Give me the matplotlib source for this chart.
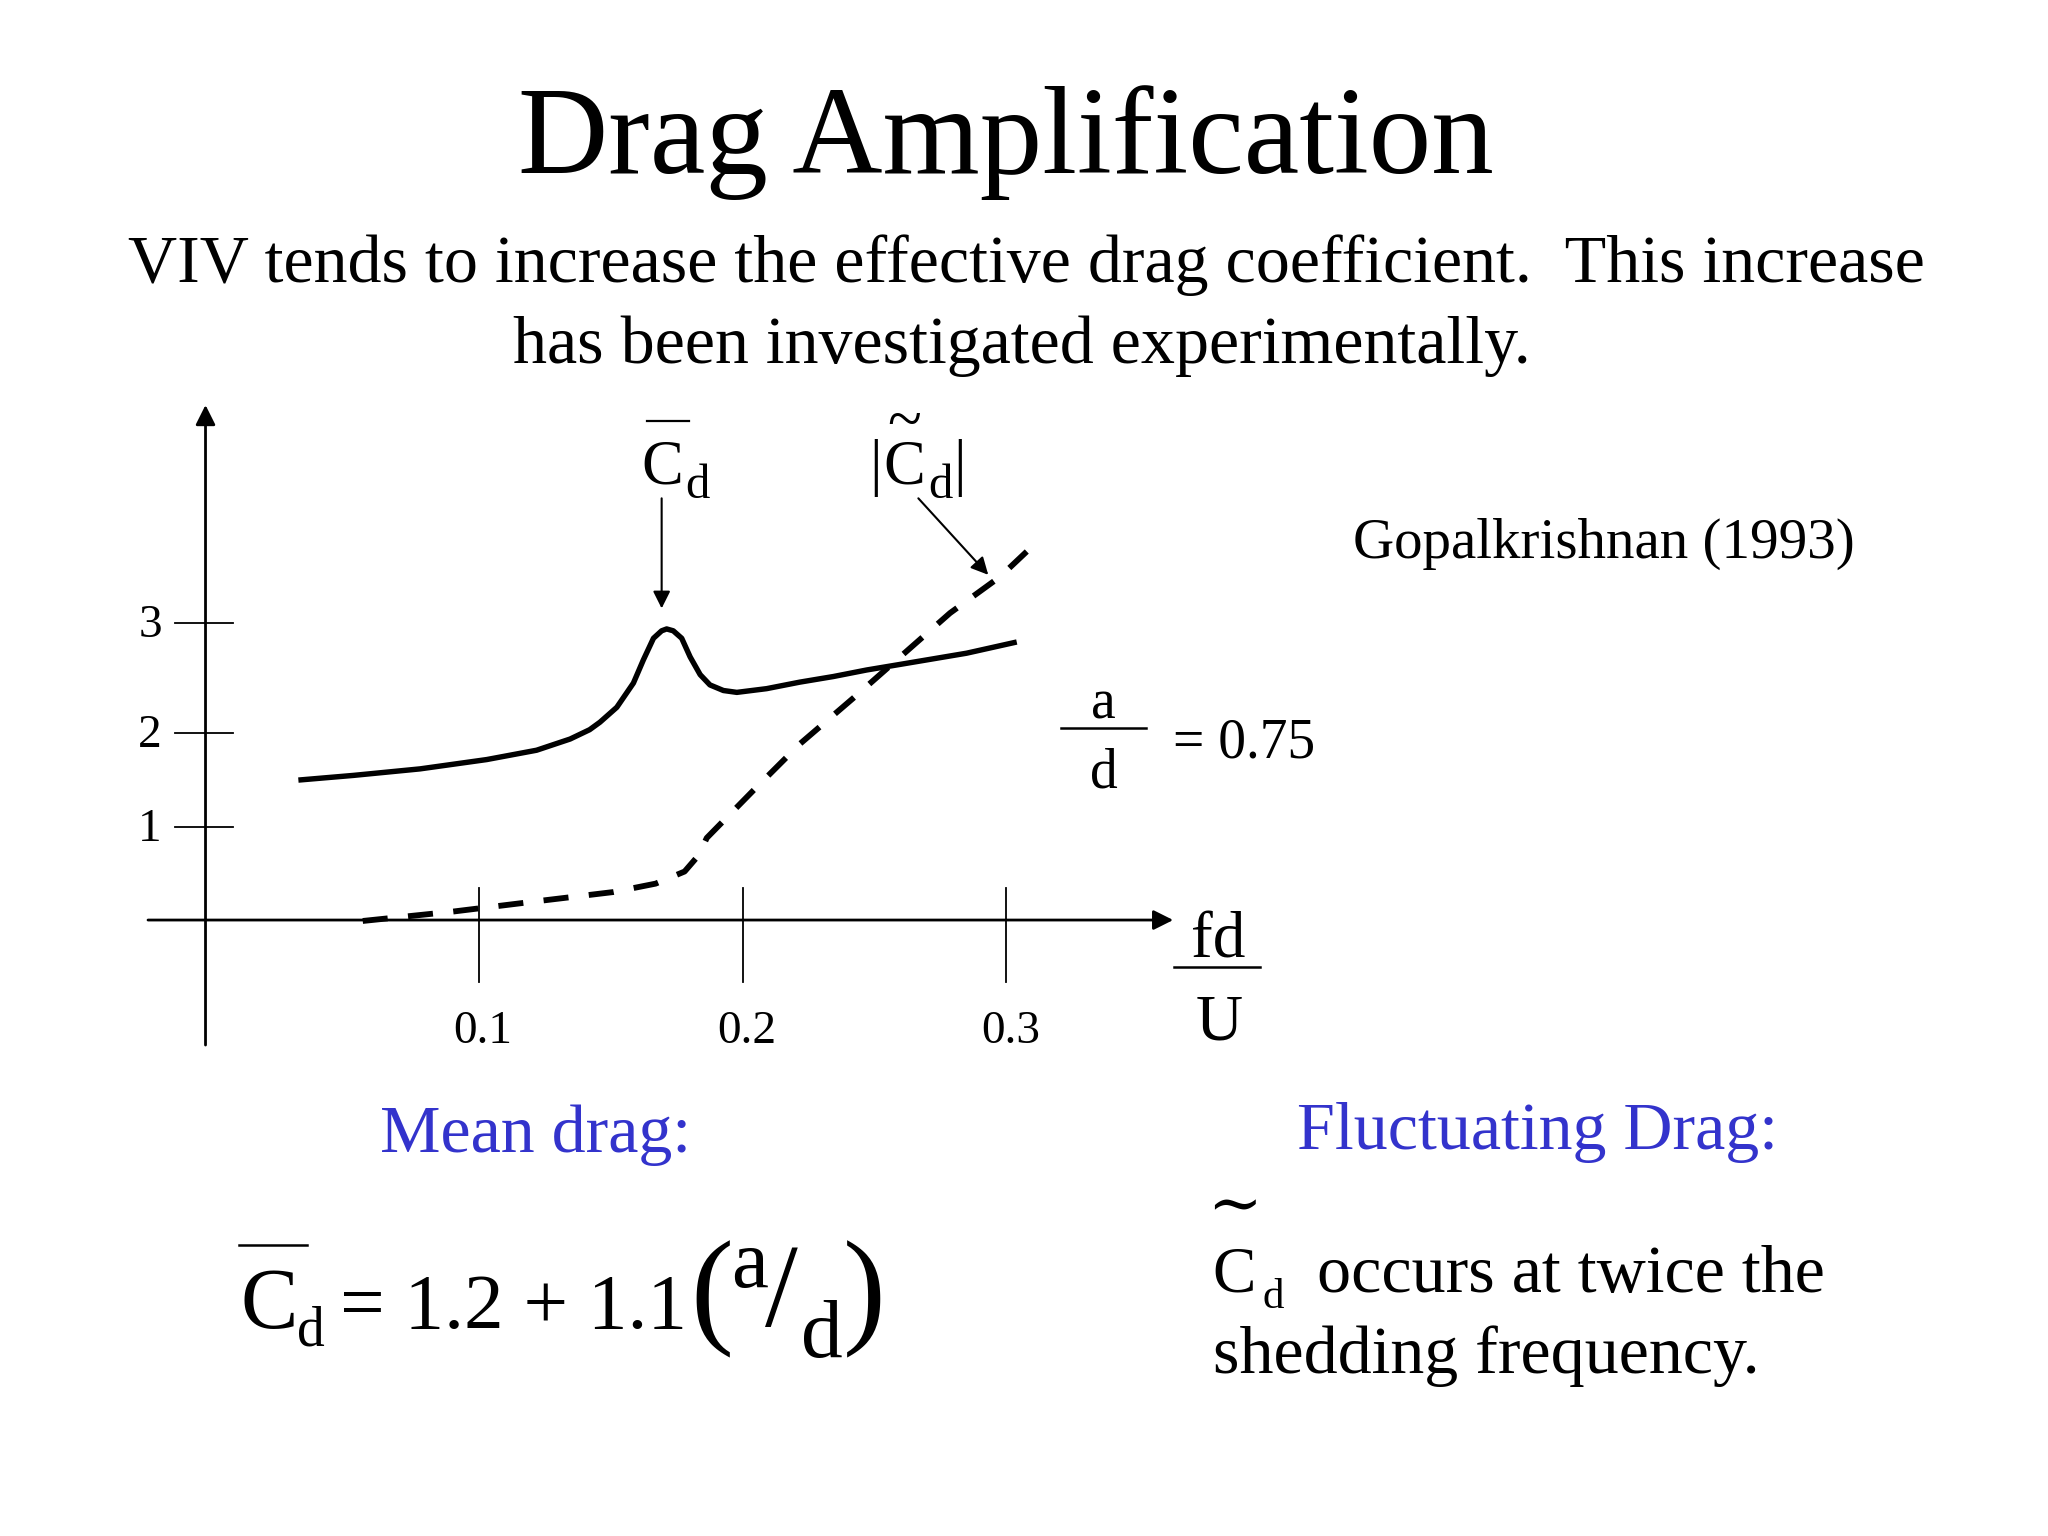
import matplotlib
matplotlib.use("Agg")
import matplotlib.pyplot as plt
from matplotlib.lines import Line2D

# curve readings: fd/U vs drag coefficient
fd_mean = [0.0316, 0.0524, 0.0777, 0.1030, 0.1219, 0.1346, 0.1420, 0.1459, 0.1523,
           0.1586, 0.1624, 0.1662, 0.1693, 0.1712, 0.1737, 0.1769, 0.1801, 0.1839,
           0.1876, 0.1927, 0.1978, 0.2091, 0.2217, 0.2344, 0.2470, 0.2597, 0.2723,
           0.2849, 0.2944, 0.3039]
cd_mean = [1.50, 1.55, 1.62, 1.72, 1.82, 1.94, 2.04, 2.12, 2.28,
           2.54, 2.79, 3.02, 3.10, 3.12, 3.10, 3.02, 2.82, 2.63,
           2.52, 2.46, 2.44, 2.48, 2.55, 2.61, 2.68, 2.74, 2.80,
           2.86, 2.92, 2.98]

fd_fluct = [0.056, 0.090, 0.1245, 0.151, 0.167, 0.178, 0.1835, 0.1864, 0.2041,
            0.2218, 0.2420, 0.2597, 0.2786, 0.2976, 0.3077]
cd_fluct = [-0.01, 0.09, 0.21, 0.30, 0.39, 0.52, 0.70, 0.88, 1.39,
            1.89, 2.38, 2.82, 3.29, 3.68, 3.95]

xtick_vals = [0.1, 0.2, 0.3]
xtick_labels = ["0.1", "0.2", "0.3"]
ytick_pos = [1.0, 2.0, 3.18]   # the "3" tick sits a bit high in the original drawing
ytick_labels = ["1", "2", "3"]

W, H = 2048, 1536
SERIF = ["Liberation Serif", "DejaVu Serif"]
BLUE = "#3333CC"

fig = plt.figure(figsize=(W / 100, H / 100), dpi=100)
fig.patch.set_facecolor("white")

# axes spans the whole slide; limits chosen so the sketch lands where it does on the slide
ax = fig.add_axes([0, 0, 1, 1])
ax.set_xlim(-0.0815, 0.6948)
ax.set_ylim(-6.602, 9.861)
ax.axis("off")


def ptxt(x, y, s, size, **kw):
    # x, y in slide pixels (from top-left), baseline anchored
    kw.setdefault("ha", "left")
    kw.setdefault("color", "black")
    fig.text(x / W, 1 - y / H, s, fontsize=size, family=SERIF, va="baseline", **kw)


def hbar(x1, x2, y, lw=1.6):
    fig.add_artist(Line2D([x1 / W, x2 / W], [1 - y / H, 1 - y / H], color="black", lw=lw))


# heading
ptxt(1006, 173, "Drag Amplification", 90, ha="center")
ptxt(1026, 282, "VIV tends to increase the effective drag coefficient.  This increase", 49, ha="center")
ptxt(1022, 363, "has been investigated experimentally.", 49, ha="center")

# axes with arrow heads
y_axis_x = -0.0036
ax.annotate("", xy=(y_axis_x, 5.52), xytext=(y_axis_x, -1.34),
            arrowprops=dict(arrowstyle="-|>", lw=2.0, color="black",
                            mutation_scale=30, shrinkA=0, shrinkB=0))
ax.annotate("", xy=(0.3632, 0), xytext=(-0.0254, 0),
            arrowprops=dict(arrowstyle="-|>", lw=2.0, color="black",
                            mutation_scale=30, shrinkA=0, shrinkB=0))

for xv, lab in zip(xtick_vals, xtick_labels):
    ax.plot([xv, xv], [-0.66, 0.34], color="black", lw=1.3)
    ax.text(xv + 0.0015, -1.32, lab, fontsize=34, family=SERIF, ha="center", va="baseline")
for yv, lab in zip(ytick_pos, ytick_labels):
    ax.plot([-0.015, 0.0068], [yv, yv], color="black", lw=1.3)
    ax.text(-0.0201, yv - 0.15, lab, fontsize=34, family=SERIF, ha="right", va="baseline")

# curves
ax.plot(fd_mean, cd_mean, color="black", lw=3.9, solid_joinstyle="round", solid_capstyle="butt")
ax.plot(fd_fluct, cd_fluct, color="black", lw=4.2, dashes=(4.3, 3.5))

# pointer arrows to curves
ax.annotate("", xy=(0.1693, 3.34), xytext=(0.1693, 4.52),
            arrowprops=dict(arrowstyle="-|>", lw=1.5, color="black",
                            mutation_scale=26, shrinkA=0, shrinkB=0))
ax.annotate("", xy=(0.2931, 3.70), xytext=(0.2666, 4.52),
            arrowprops=dict(arrowstyle="-|>", lw=1.5, color="black",
                            mutation_scale=26, shrinkA=0, shrinkB=0))

# curve labels
hbar(647, 689, 421)
ptxt(641, 483, "C", 45)
ptxt(685, 498, "d", 35)

ptxt(869, 483, "|", 46)
ptxt(904, 483, "~\nC", 45, ha="center", linespacing=0.65)
ptxt(928, 498, "d", 35)
ptxt(953, 483, "|", 46)

ptxt(1353, 558, "Gopalkrishnan (1993)", 41)

# a/d = 0.75
ptxt(1091, 718, "a", 40)
hbar(1061, 1146, 728, lw=1.8)
ptxt(1090, 787, "d", 40)
ptxt(1173, 758, "= 0.75", 40)

# fd/U axis label
ptxt(1191, 958, "fd", 47)
hbar(1174, 1260, 967, lw=1.8)
ptxt(1196, 1040, "U", 47)

# lower text
ptxt(380, 1152, "Mean drag:", 49, color=BLUE)
ptxt(1297, 1149, "Fluctuating Drag:", 49, color=BLUE)

hbar(239, 307, 1245, lw=1.8)
ptxt(240, 1328, "C", 62)
ptxt(297, 1345, "d", 40)
ptxt(340, 1328, "= 1.2 + 1.1", 57)
ptxt(690, 1330, "(", 93)
ptxt(731, 1287, "a", 60)
ptxt(765, 1326, "/", 85)
ptxt(801, 1357, "d", 60)
ptxt(843, 1330, ")", 93)

ptxt(1234, 1292, "\u223c\nC", 47, ha="center", linespacing=1.16)
ptxt(1262, 1308, "d", 31)
ptxt(1317, 1292, "occurs at twice the", 49)
ptxt(1213, 1373, "shedding frequency.", 49)

fig.savefig("out.png", dpi=100, facecolor="white")
